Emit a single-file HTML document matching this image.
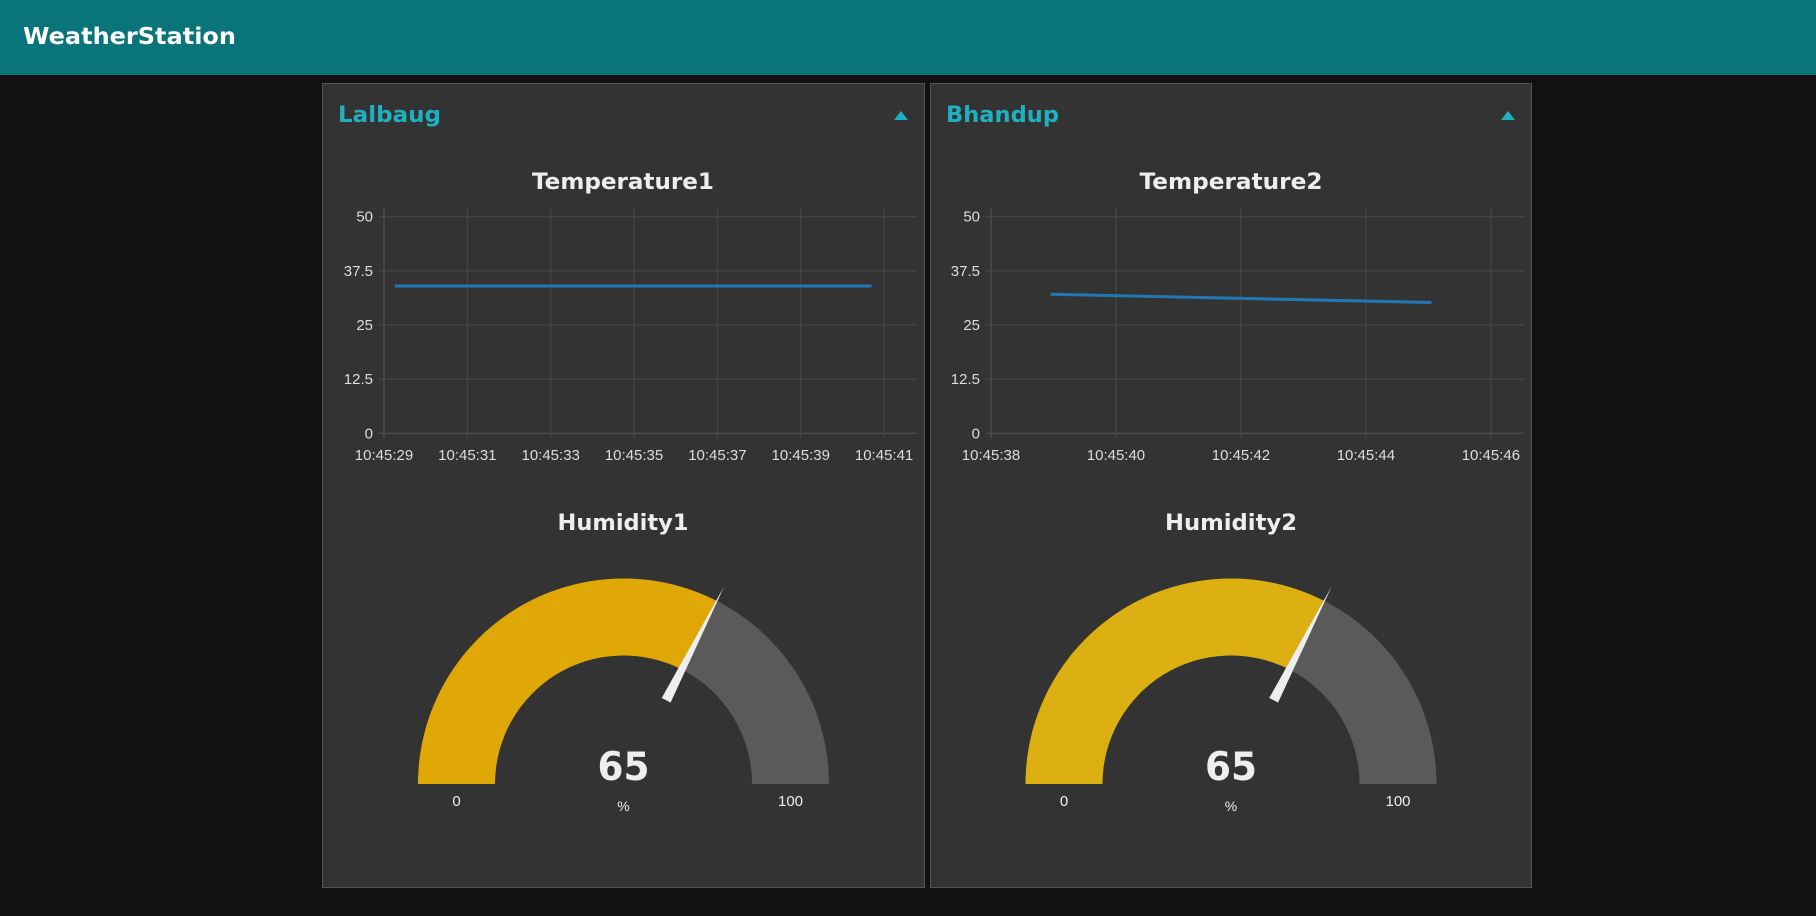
<!DOCTYPE html>
<html><head><meta charset="utf-8">
<style>
html,body{margin:0;padding:0;background:#111;width:1816px;height:916px;overflow:hidden;font-family:"Liberation Sans",Arial,sans-serif;}
svg{display:block}
.hb{font-family:"DejaVu Sans","Liberation Sans",sans-serif;font-weight:bold;}
</style></head>
<body>
<svg id="root" width="1816" height="916" viewBox="0 0 1816 916" xmlns="http://www.w3.org/2000/svg">
  <rect x="0" y="0" width="1816" height="916" fill="#111"/>
  <rect x="0" y="0" width="1816" height="75" fill="#097479"/>
  <text class="hb" x="23" y="44" fill="#fff" font-size="23" textLength="213" lengthAdjust="spacingAndGlyphs">WeatherStation</text>

  <g>
    <rect x="322.5" y="83.5" width="602" height="804" fill="#333" stroke="#555"/>
    <text class="hb" x="338" y="122" fill="#1fb1c1" font-size="22" textLength="103" lengthAdjust="spacingAndGlyphs">Lalbaug</text>
    <polygon points="894,120 908,120 901,111" fill="#1fb1c1"/>
    <text class="hb" x="623" y="189" fill="#eee" font-size="22" text-anchor="middle" textLength="182" lengthAdjust="spacingAndGlyphs">Temperature1</text>
    <g id="chart1"></g>
    <text class="hb" x="623" y="530" fill="#eee" font-size="22" text-anchor="middle" textLength="131" lengthAdjust="spacingAndGlyphs">Humidity1</text>
    <g id="gauge1"></g>
  </g>

  <g>
    <rect x="930.5" y="83.5" width="601" height="804" fill="#333" stroke="#555"/>
    <text class="hb" x="946" y="122" fill="#1fb1c1" font-size="22" textLength="113" lengthAdjust="spacingAndGlyphs">Bhandup</text>
    <polygon points="1501,120 1515,120 1508,111" fill="#1fb1c1"/>
    <text class="hb" x="1231" y="189" fill="#eee" font-size="22" text-anchor="middle" textLength="183" lengthAdjust="spacingAndGlyphs">Temperature2</text>
    <g id="chart2"></g>
    <text class="hb" x="1231" y="530" fill="#eee" font-size="22" text-anchor="middle" textLength="132" lengthAdjust="spacingAndGlyphs">Humidity2</text>
    <g id="gauge2"></g>
  </g>
</svg>
<script>
// ---- chart data ----
const yTicks = [0, 12.5, 25, 37.5, 50];
const yTickLabels = ["0", "12.5", "25", "37.5", "50"];
const t1Ticks = [29, 31, 33, 35, 37, 39, 41];
const t1TickLabels = ["10:45:29","10:45:31","10:45:33","10:45:35","10:45:37","10:45:39","10:45:41"];
const t1Times = [29.26, 40.7];
const t1Values = [34, 34];
const t2Ticks = [38, 40, 42, 44, 46];
const t2TickLabels = ["10:45:38","10:45:40","10:45:42","10:45:44","10:45:46"];
const t2Times = [38.95, 45.05];
const t2Values = [32.1, 30.2];
const humidity1 = [65];
const humidity2 = [65];
const gaugeMin = [0];
const gaugeMax = [100];

const NS = "http://www.w3.org/2000/svg";
function mk(tag, attrs, parent) {
  const e = document.createElementNS(NS, tag);
  for (const k in attrs) e.setAttribute(k, attrs[k]);
  parent.appendChild(e);
  return e;
}

function drawChart(g, ticks, tickLabels, times, values, x0, x1, tMin, tMax, prefix) {
  const yTop = 216.7, yBot = 433.3;
  const xs = t => x0 + (t - tMin) / (tMax - tMin) * (x1 - x0);
  const ys = v => yBot - v / 50 * (yBot - yTop);
  yTicks.forEach((v, i) => {
    const l = mk("line", {x1: x0 - 5, x2: x1, y1: ys(v), y2: ys(v), stroke: i === 0 ? "#555" : "#4a4a4a", "stroke-width": 1}, g);
    
    
    const t = mk("text", {x: x0 - 11, y: ys(v) + 5, fill: "#ddd", "font-size": 15, "text-anchor": "end"}, g);
    t.textContent = yTickLabels[i];
    
    
  });
  ticks.forEach((tv, i) => {
    const l = mk("line", {x1: xs(tv), x2: xs(tv), y1: 208, y2: 438, stroke: i === 0 ? "#555" : "#4a4a4a", "stroke-width": 1}, g);
    
    
    const t = mk("text", {x: xs(tv), y: 460, fill: "#ddd", "font-size": 15, "text-anchor": "middle"}, g);
    t.textContent = tickLabels[i];
    
    
  });
  const pts = times.map((tv, i) => xs(tv) + "," + ys(values[i])).join(" ");
  const p = mk("polyline", {points: pts, fill: "none", stroke: "#1f77b4", "stroke-width": 3}, g);
  
  
}

function drawGauge(g, cx, value, min, max, color, prefix) {
  const cy = 784, R = 205.5, r = 128.5;
  const frac = (value - min) / (max - min);
  const pt = (rad, f) => [cx - rad * Math.cos(Math.PI * f), cy - rad * Math.sin(Math.PI * f)];
  const arc = (f0, f1) => {
    const a = pt(R, f0), b = pt(R, f1), c = pt(r, f1), d = pt(r, f0);
    return `M${a[0]},${a[1]} A${R},${R} 0 0 1 ${b[0]},${b[1]} L${c[0]},${c[1]} A${r},${r} 0 0 0 ${d[0]},${d[1]} Z`;
  };
  const bg = mk("path", {d: arc(frac, 1), fill: "#5a5a5a"}, g);
  
  
  const fg = mk("path", {d: arc(0, frac), fill: color}, g);
  
  
  const ang = Math.PI * frac;
  const ux = -Math.cos(ang), uy = -Math.sin(ang);
  const px = -uy, py = ux;
  const tip = [cx + ux * 222, cy + uy * 222];
  const b1 = [cx + ux * 94 + px * 5, cy + uy * 94 + py * 5];
  const b2 = [cx + ux * 94 - px * 5, cy + uy * 94 - py * 5];
  const n = mk("polygon", {points: `${tip[0]},${tip[1]} ${b1[0]},${b1[1]} ${b2[0]},${b2[1]}`, fill: "#eee"}, g);
  
  
  const v = mk("text", {x: cx, y: 780, fill: "#eee", "font-size": 39, "class": "hb", "text-anchor": "middle", textLength: 52, lengthAdjust: "spacingAndGlyphs"}, g);
  v.textContent = String(value);
  
  
  const u = mk("text", {x: cx, y: 811, fill: "#eee", "font-size": 14, "text-anchor": "middle"}, g);
  u.textContent = "%";
  
  
  const lmin = mk("text", {x: cx - 167, y: 806, fill: "#eee", "font-size": 15, "text-anchor": "middle"}, g);
  lmin.textContent = String(min);
  
  
  const lmax = mk("text", {x: cx + 167, y: 806, fill: "#eee", "font-size": 15, "text-anchor": "middle"}, g);
  lmax.textContent = String(max);
  
  
}

drawChart(document.getElementById("chart1"), t1Ticks, t1TickLabels, t1Times, t1Values, 384, 917, 29, 41.79, "temperature1");
drawChart(document.getElementById("chart2"), t2Ticks, t2TickLabels, t2Times, t2Values, 991, 1524, 38, 46.53, "temperature2");
drawGauge(document.getElementById("gauge1"), 623.5, humidity1[0], gaugeMin[0], gaugeMax[0], "#e0a806", "humidity1");
drawGauge(document.getElementById("gauge2"), 1231, humidity2[0], gaugeMin[0], gaugeMax[0], "#dcb012", "humidity2");
</script>
</body></html>
